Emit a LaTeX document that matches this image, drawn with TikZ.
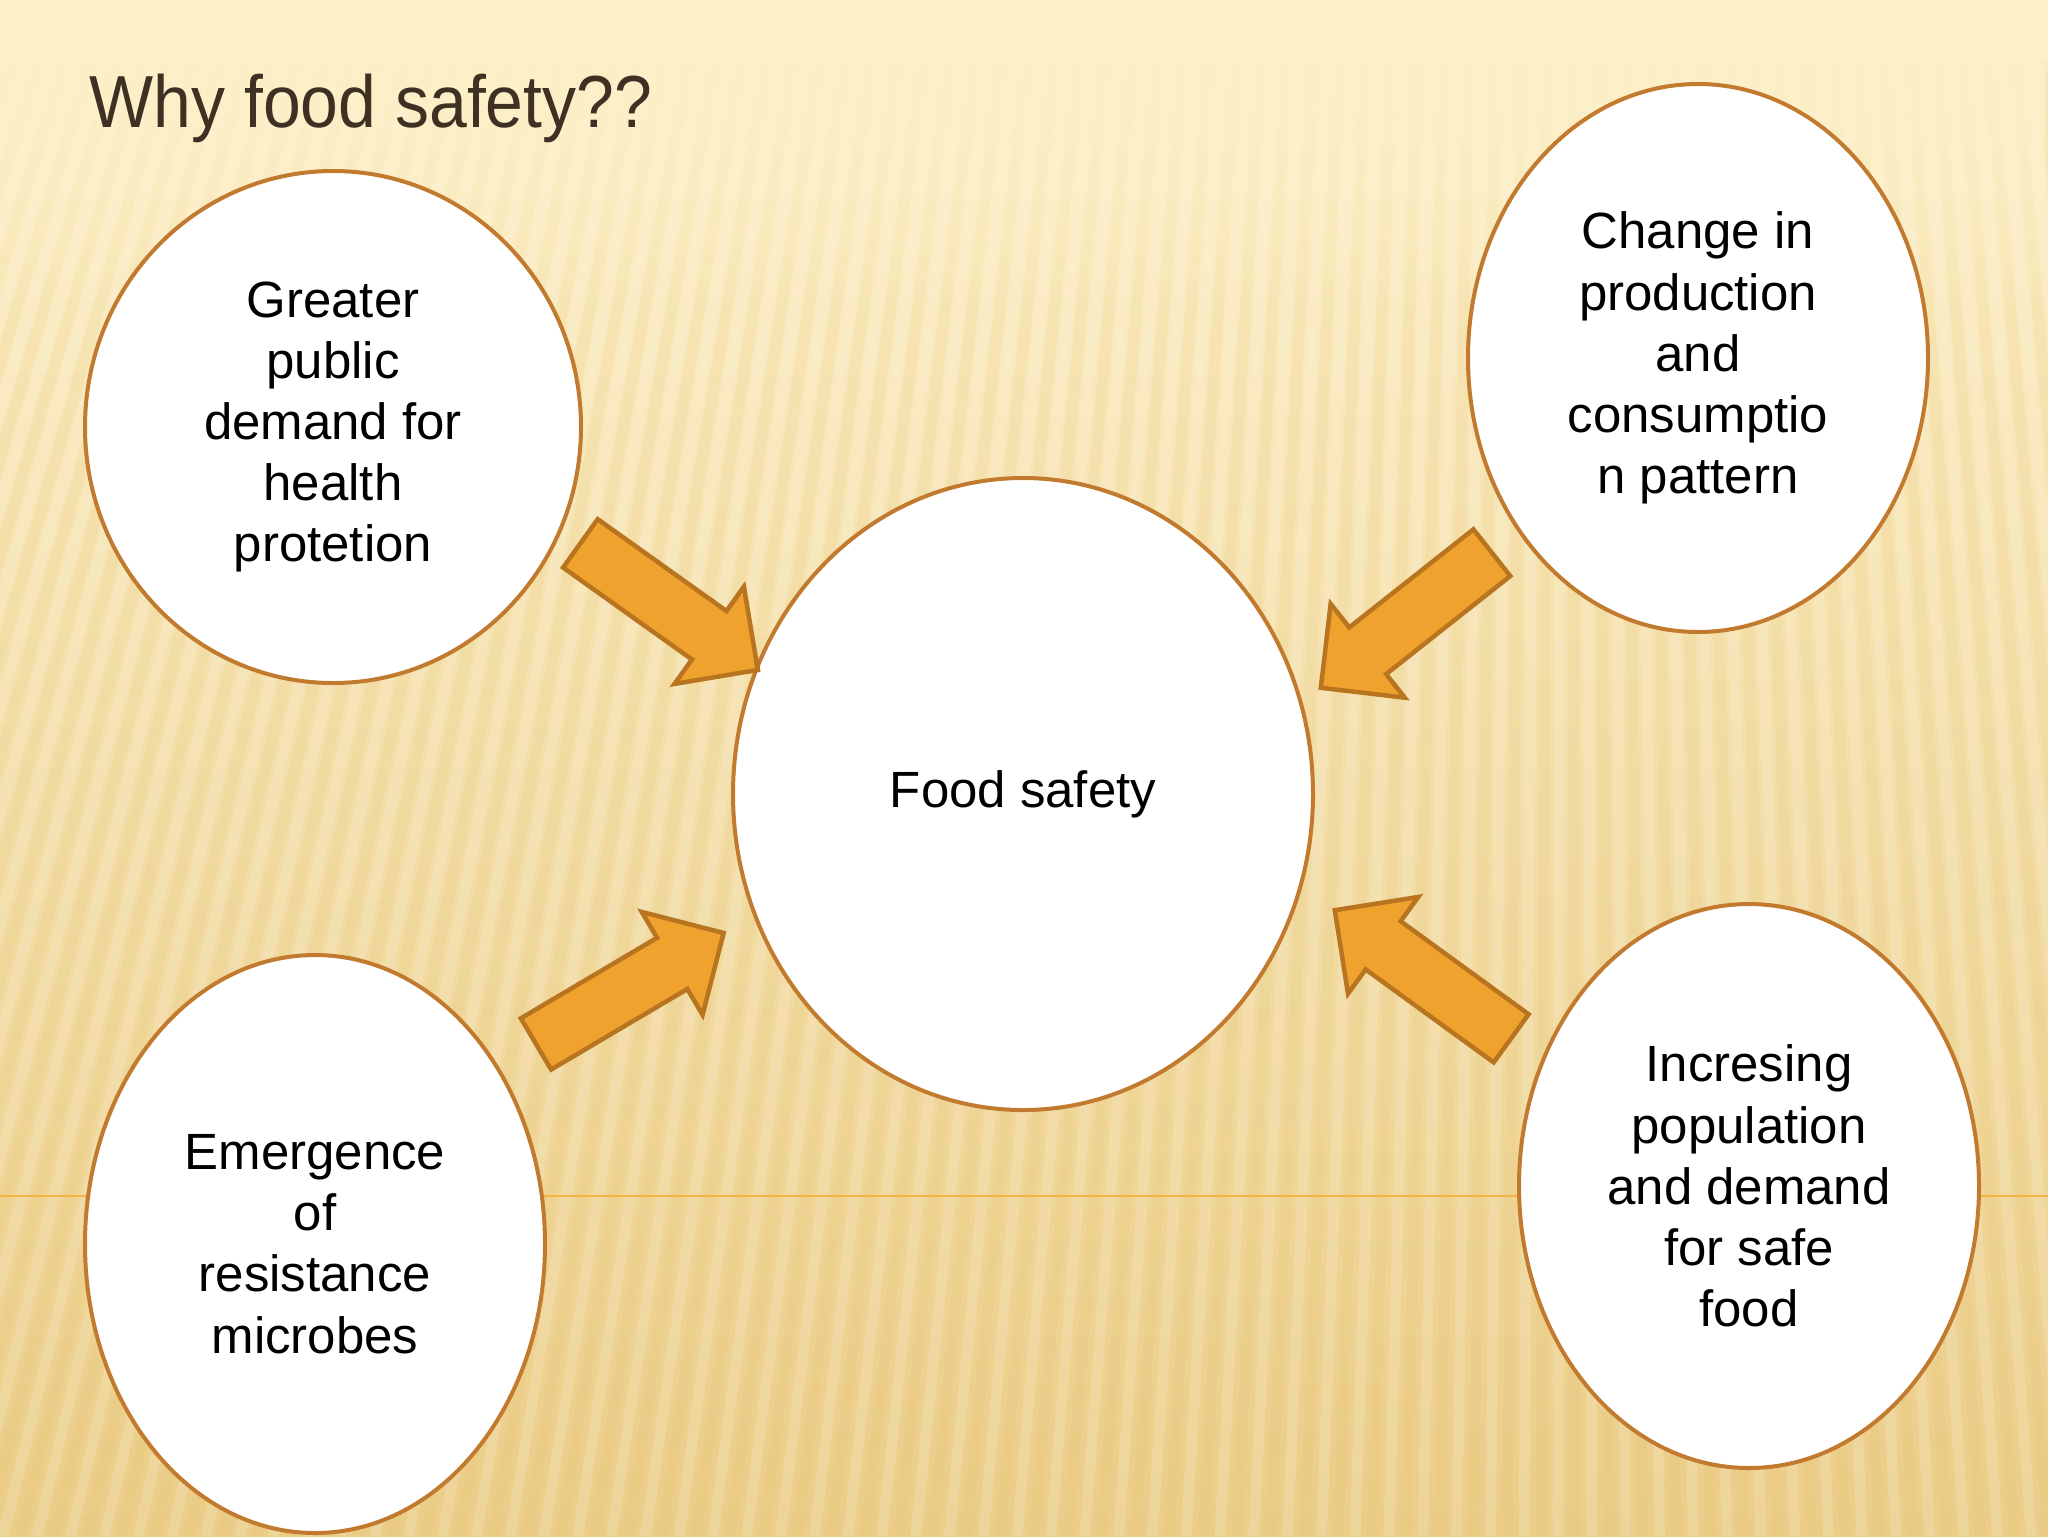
\documentclass[tikz,border=0pt]{standalone}
\usepackage{fontspec}
\setmainfont{Liberation Sans}
\newfontfamily\titlefont[FakeStretch=0.92]{Liberation Sans}
\usetikzlibrary{shapes.geometric,shapes.arrows,positioning,fadings}

\definecolor{ringbrown}{HTML}{C27A2E}
\definecolor{arrowfill}{HTML}{EFA22E}
\definecolor{arrowedge}{HTML}{B8741E}
\definecolor{titlebrown}{HTML}{3E3022}
\definecolor{bgtop}{HTML}{FDF0C9}
\definecolor{bgmid}{HTML}{F9E4AB}
\definecolor{bgbottom}{HTML}{EBCD88}
\definecolor{stripegold}{HTML}{DDBB62}
\definecolor{ruleorange}{HTML}{F2B447}

\tikzset{
  bubble/.style={ellipse, draw=ringbrown, line width=0.4mm, fill=white,
    inner sep=0pt, align=center, font=\fontsize{14.5pt}{17.4pt}\selectfont},
  fatarrow/.style={single arrow, draw=arrowedge, line width=0.45mm, fill=arrowfill,
    single arrow head extend=3mm, single arrow tip angle=90,
    inner xsep=0pt, inner ysep=2.75mm, minimum height=21.8mm},
  stripelight/.style={white, opacity=0.15, line width=1.1mm},
  stripedark/.style={stripegold, opacity=0.10, line width=1.1mm},
}

\begin{document}
\begin{tikzpicture}[x=0.1mm, y=-0.1mm]

    % background
    \useasboundingbox (0,0) rectangle (2048,1536);
    \shade[top color=bgtop, middle color=bgmid, bottom color=bgbottom] (0,0) rectangle (2048,1536);
    \begin{scope}
        \clip (0,60) rectangle (2048,1536);
        \foreach \s in {0,26,...,2600} {
            \draw[stripelight] (\s,60) -- ({\s-470+0.3*\s},1536);
            \draw[stripedark] ({\s+13},60) -- ({\s+13-470+0.3*(\s+13)},1536);
        }
    \end{scope}
    \fill[bgtop] (0,0) rectangle (2048,60);
    \fill[bgtop, path fading=south] (0,59) rectangle (2048,330);
    \draw[ruleorange, line width=0.25mm] (0,1196) -- (2048,1196);

    % title
    \node[anchor=base west, inner sep=0pt, text=titlebrown,
      font=\titlefont\fontsize{21pt}{25pt}\selectfont] (title) at (89,127) {Why food safety??};

    % bubbles
    \node[bubble, minimum width=58mm, minimum height=63.2mm] (safety) at (1023,794) {Food safety};
    \node[bubble, minimum width=49.6mm, minimum height=51.2mm] (demand) at (333,427)
      {Greater\\public\\demand for\\health\\protetion};
    \node[bubble, minimum width=46mm, minimum height=54.8mm] (change) at (1698,358)
      {Change in\\production\\and\\consumptio\\n pattern};
    \node[bubble, minimum width=46mm, minimum height=57.8mm] (microbes) at (315,1244)
      {Emergence\\of\\resistance\\microbes};
    \node[bubble, minimum width=46mm, minimum height=56.4mm] (population) at (1749,1186)
      {Incresing\\population\\and demand\\for safe\\food};

    % arrows into the centre
    \node[fatarrow, rotate=-35.5] (arrdemand) at (657,598) {};
    \node[fatarrow, rotate=-141.7] (arrchange) at (1418,611) {};
    \node[fatarrow, rotate=30.6] (arrmicrobes) at (617,996) {};
    \node[fatarrow, rotate=144] (arrpopulation) at (1435,983) {};

\end{tikzpicture}
\end{document}
